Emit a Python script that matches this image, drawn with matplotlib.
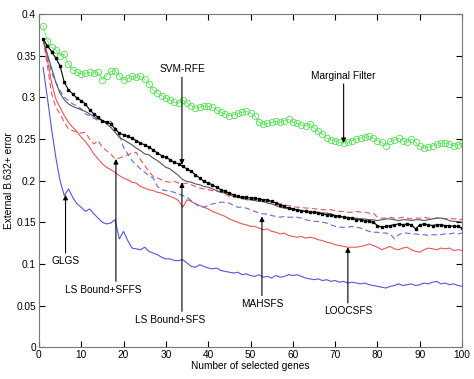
import numpy as np
import matplotlib
matplotlib.use("Agg")
import matplotlib.pyplot as plt
from matplotlib.ticker import FuncFormatter, MultipleLocator

plt.rcParams['font.family'] = ['Liberation Sans', 'DejaVu Sans']

genes = list(range(1, 101))

glgs = [0.336, 0.300, 0.262, 0.228, 0.200, 0.182, 0.190, 0.180, 0.172, 0.168,
        0.163, 0.166, 0.160, 0.155, 0.150, 0.148, 0.149, 0.153, 0.130, 0.139,
        0.128, 0.119, 0.118, 0.117, 0.120, 0.115, 0.113, 0.111, 0.108, 0.106,
        0.106, 0.104, 0.104, 0.105, 0.101, 0.097, 0.096, 0.099, 0.097, 0.095,
        0.094, 0.095, 0.092, 0.091, 0.090, 0.089, 0.090, 0.087, 0.088, 0.086,
        0.085, 0.087, 0.084, 0.085, 0.083, 0.086, 0.084, 0.085, 0.087, 0.086,
        0.087, 0.085, 0.083, 0.082, 0.081, 0.082, 0.080, 0.081, 0.079, 0.080,
        0.078, 0.079, 0.077, 0.078, 0.077, 0.076, 0.077, 0.075, 0.074, 0.073,
        0.072, 0.071, 0.073, 0.074, 0.076, 0.074, 0.075, 0.076, 0.074, 0.075,
        0.077, 0.076, 0.078, 0.079, 0.076, 0.077, 0.075, 0.076, 0.074, 0.073]

loocsfs = [0.370, 0.345, 0.318, 0.298, 0.288, 0.278, 0.270, 0.264, 0.259, 0.252,
           0.247, 0.240, 0.232, 0.226, 0.220, 0.216, 0.213, 0.210, 0.206, 0.203,
           0.201, 0.198, 0.197, 0.193, 0.191, 0.189, 0.188, 0.186, 0.185, 0.183,
           0.181, 0.179, 0.176, 0.168, 0.177, 0.175, 0.172, 0.170, 0.168, 0.166,
           0.163, 0.161, 0.159, 0.157, 0.154, 0.152, 0.150, 0.148, 0.147, 0.145,
           0.145, 0.143, 0.141, 0.142, 0.139, 0.138, 0.136, 0.137, 0.134, 0.133,
           0.132, 0.133, 0.131, 0.132, 0.131, 0.129, 0.128, 0.126, 0.125, 0.123,
           0.122, 0.121, 0.120, 0.120, 0.120, 0.121, 0.122, 0.124, 0.122, 0.120,
           0.117, 0.119, 0.121, 0.118, 0.117, 0.119, 0.120, 0.117, 0.115, 0.114,
           0.117, 0.119, 0.118, 0.117, 0.119, 0.118, 0.119, 0.116, 0.117, 0.116]

ls_sffs = [0.370, 0.338, 0.305, 0.288, 0.280, 0.270, 0.262, 0.260, 0.258, 0.257,
           0.258, 0.250, 0.244, 0.248, 0.240, 0.236, 0.232, 0.226, 0.227, 0.229,
           0.231, 0.233, 0.234, 0.225, 0.218, 0.211, 0.205, 0.203, 0.201, 0.199,
           0.198, 0.199, 0.197, 0.196, 0.197, 0.195, 0.193, 0.191, 0.190, 0.189,
           0.188, 0.187, 0.186, 0.184, 0.181, 0.180, 0.180, 0.179, 0.179, 0.178,
           0.178, 0.177, 0.177, 0.175, 0.174, 0.173, 0.172, 0.171, 0.170, 0.169,
           0.168, 0.168, 0.167, 0.167, 0.166, 0.166, 0.165, 0.165, 0.165, 0.164,
           0.163, 0.163, 0.162, 0.162, 0.163, 0.162, 0.162, 0.161, 0.161, 0.156,
           0.155, 0.155, 0.156, 0.155, 0.155, 0.156, 0.155, 0.154, 0.155, 0.155,
           0.156, 0.155, 0.154, 0.155, 0.155, 0.154, 0.155, 0.154, 0.154, 0.153]

mahsfs = [0.370, 0.350, 0.330, 0.318, 0.308, 0.300, 0.296, 0.292, 0.290, 0.286,
          0.280, 0.278, 0.275, 0.272, 0.271, 0.270, 0.271, 0.264, 0.255, 0.240,
          0.232, 0.224, 0.219, 0.214, 0.210, 0.206, 0.203, 0.193, 0.189, 0.188,
          0.187, 0.186, 0.184, 0.182, 0.180, 0.176, 0.172, 0.169, 0.168, 0.170,
          0.172, 0.173, 0.174, 0.174, 0.173, 0.170, 0.168, 0.168, 0.167, 0.165,
          0.163, 0.161, 0.160, 0.160, 0.158, 0.157, 0.156, 0.157, 0.156, 0.156,
          0.156, 0.155, 0.153, 0.152, 0.151, 0.151, 0.150, 0.149, 0.147, 0.145,
          0.144, 0.144, 0.144, 0.145, 0.144, 0.143, 0.141, 0.139, 0.138, 0.138,
          0.137, 0.137, 0.136, 0.130, 0.135, 0.137, 0.137, 0.136, 0.136, 0.135,
          0.135, 0.134, 0.135, 0.135, 0.135, 0.136, 0.136, 0.137, 0.136, 0.137]

ls_sfs = [0.370, 0.352, 0.335, 0.318, 0.305, 0.297, 0.292, 0.289, 0.287, 0.285,
          0.283, 0.280, 0.277, 0.274, 0.272, 0.268, 0.264, 0.258, 0.252, 0.249,
          0.246, 0.243, 0.239, 0.236, 0.232, 0.231, 0.227, 0.224, 0.220, 0.216,
          0.214, 0.210, 0.206, 0.201, 0.199, 0.198, 0.196, 0.195, 0.193, 0.192,
          0.190, 0.188, 0.186, 0.185, 0.183, 0.181, 0.180, 0.179, 0.177, 0.177,
          0.176, 0.175, 0.175, 0.173, 0.172, 0.170, 0.168, 0.167, 0.166, 0.165,
          0.165, 0.164, 0.163, 0.162, 0.162, 0.162, 0.161, 0.161, 0.160, 0.158,
          0.157, 0.156, 0.156, 0.155, 0.155, 0.154, 0.154, 0.153, 0.153, 0.152,
          0.153, 0.154, 0.154, 0.153, 0.152, 0.153, 0.153, 0.152, 0.153, 0.153,
          0.152, 0.153, 0.154, 0.155, 0.155, 0.154, 0.152, 0.151, 0.151, 0.150]

svm_rfe = [0.370, 0.362, 0.355, 0.347, 0.338, 0.318, 0.309, 0.304, 0.299, 0.296,
           0.292, 0.285, 0.280, 0.276, 0.272, 0.270, 0.268, 0.262, 0.257, 0.255,
           0.253, 0.251, 0.248, 0.245, 0.243, 0.240, 0.237, 0.233, 0.230, 0.228,
           0.225, 0.222, 0.220, 0.217, 0.214, 0.211, 0.207, 0.203, 0.199, 0.197,
           0.195, 0.192, 0.189, 0.187, 0.185, 0.183, 0.181, 0.180, 0.180, 0.179,
           0.179, 0.178, 0.177, 0.177, 0.175, 0.173, 0.171, 0.169, 0.167, 0.166,
           0.165, 0.164, 0.163, 0.162, 0.162, 0.161, 0.160, 0.159, 0.159, 0.158,
           0.157, 0.156, 0.155, 0.155, 0.153, 0.153, 0.152, 0.151, 0.150, 0.146,
           0.144, 0.145, 0.146, 0.147, 0.148, 0.147, 0.148, 0.147, 0.142, 0.147,
           0.148, 0.147, 0.146, 0.147, 0.147, 0.146, 0.146, 0.145, 0.145, 0.143]

marginal = [0.386, 0.368, 0.360, 0.357, 0.350, 0.352, 0.340, 0.333, 0.330, 0.328,
            0.329, 0.330, 0.329, 0.330, 0.321, 0.326, 0.331, 0.332, 0.326, 0.321,
            0.323, 0.325, 0.324, 0.325, 0.322, 0.316, 0.309, 0.305, 0.302, 0.299,
            0.297, 0.294, 0.293, 0.297, 0.293, 0.290, 0.287, 0.288, 0.290, 0.289,
            0.288, 0.285, 0.282, 0.280, 0.278, 0.279, 0.281, 0.282, 0.283, 0.281,
            0.278, 0.270, 0.268, 0.269, 0.270, 0.271, 0.270, 0.272, 0.274, 0.270,
            0.269, 0.267, 0.266, 0.268, 0.263, 0.259, 0.256, 0.251, 0.249, 0.248,
            0.246, 0.245, 0.246, 0.248, 0.250, 0.251, 0.252, 0.253, 0.251, 0.248,
            0.246, 0.242, 0.247, 0.249, 0.251, 0.248, 0.246, 0.250, 0.246, 0.241,
            0.239, 0.240, 0.242, 0.244, 0.245, 0.245, 0.244, 0.242, 0.243, 0.245]

# label text, label position, arrow tip
labels = ["SVM-RFE", "Marginal Filter", "GLGS", "LS Bound+SFFS",
          "LS Bound+SFS", "MAHSFS", "LOOCSFS"]
label_xy = [(34, 0.334), (72, 0.326), (6.2, 0.103), (15.2, 0.069),
            (31, 0.033), (52.7, 0.052), (73, 0.043)]
tip_xy = [(33.8, 0.219), (72, 0.245), (6.3, 0.183), (18.2, 0.226),
          (33.8, 0.198), (52.7, 0.157), (73, 0.120)]

fs = 7.3

fig = plt.figure(figsize=(4.74, 3.79), dpi=100)
ax = fig.add_axes([0.082, 0.084, 0.893, 0.879])

ax.plot(genes, marginal, color='#66ee66', lw=0.6, marker='o', ms=4.6,
        mfc='none', mec='#55e055', mew=0.6)
ax.plot(genes, glgs, color='#5555dd', lw=0.8)
ax.plot(genes, loocsfs, color='#ee5555', lw=0.8)
ax.plot(genes, ls_sffs, color='#ee5555', lw=0.8, ls=(0, (5, 3)))
ax.plot(genes, mahsfs, color='#6666dd', lw=0.8, ls=(0, (5, 3)))
ax.plot(genes, ls_sfs, color='#555555', lw=0.8)
ax.plot(genes, svm_rfe, color='black', lw=0.8, marker='s', ms=1.5)

for txt, (lx, ly), (tx, ty) in zip(labels, label_xy, tip_xy):
    ax.text(lx, ly, txt, ha='center', va='center', fontsize=fs)
    start = ly - 0.010 if ty < ly else ly + 0.010
    ax.annotate('', xy=(tx, ty), xytext=(tx, start),
                arrowprops=dict(arrowstyle='-|>', color='#555555', lw=0.8,
                                mutation_scale=7, fc='black', ec='black',
                                shrinkA=0, shrinkB=0))

ax.set_xlim(0, 100)
ax.set_ylim(0, 0.4)
ax.xaxis.set_major_locator(MultipleLocator(10))
ax.yaxis.set_major_locator(MultipleLocator(0.05))
ax.yaxis.set_major_formatter(FuncFormatter(lambda v, p: '%g' % round(v, 2)))
ax.tick_params(direction='in', top=True, right=True, labelsize=fs, length=4, pad=2)
for s in ax.spines.values():
    s.set_color('#777777')
ax.set_xlabel('Number of selected genes', fontsize=fs, labelpad=1)
ax.set_ylabel('External B.632+ error', fontsize=fs, labelpad=2)

fig.savefig('out.png', dpi=100)
